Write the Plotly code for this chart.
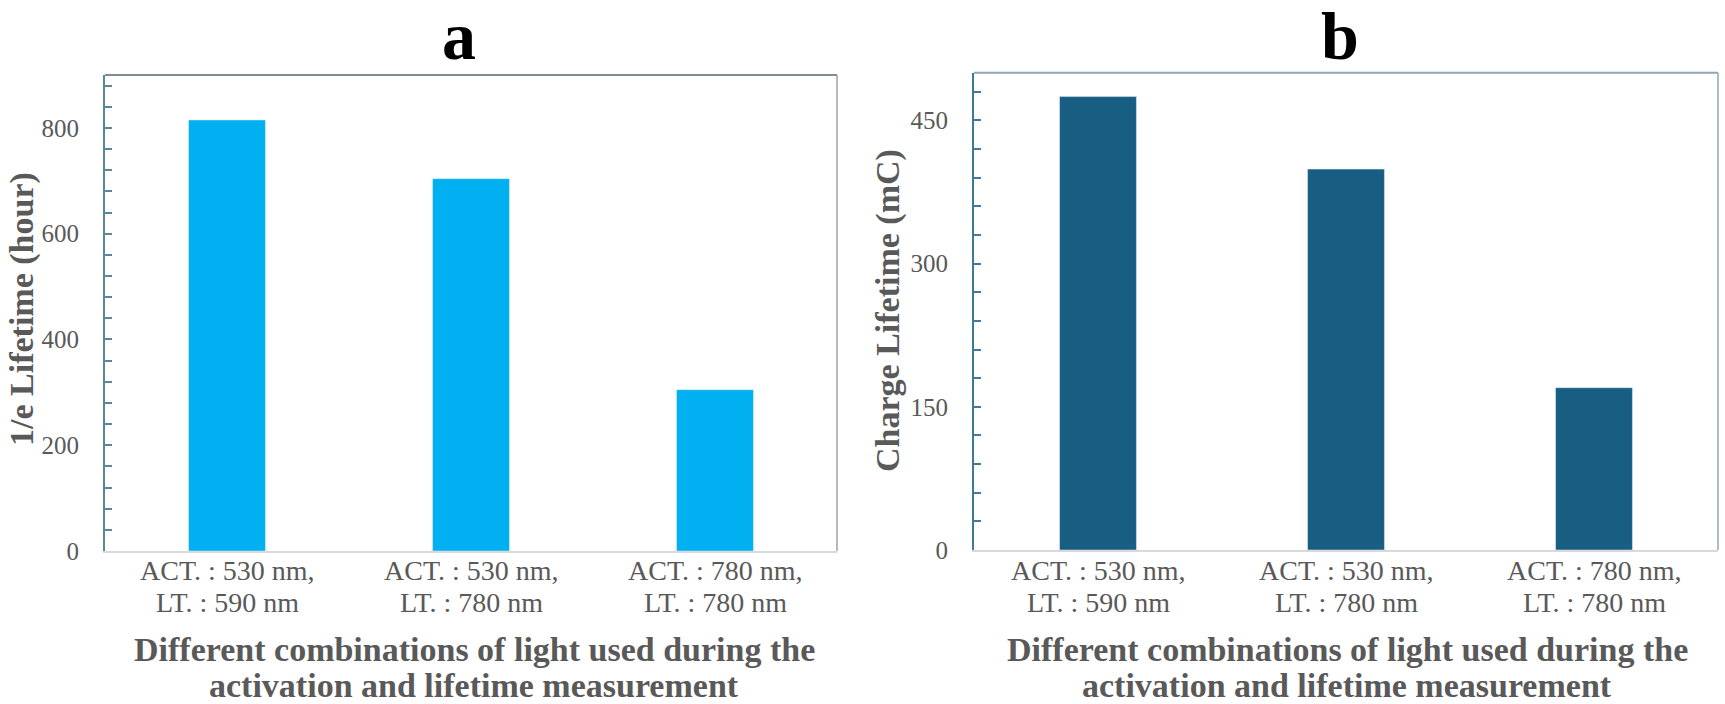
import plotly.graph_objects as go

# ---- data ----
categories = ["ACT. : 530 nm, LT. : 590 nm",
              "ACT. : 530 nm, LT. : 780 nm",
              "ACT. : 780 nm, LT. : 780 nm"]
label_line1 = ["ACT. : 530 nm,", "ACT. : 530 nm,", "ACT. : 780 nm,"]
label_line2 = ["LT. : 590 nm", "LT. : 780 nm", "LT. : 780 nm"]
lifetime_hour = [815, 704, 305]
charge_mC = [475, 399, 170]
panel_labels = ["a", "b"]
ytitle_a = "1/e Lifetime (hour)"
ytitle_b = "Charge Lifetime (mC)"
xtitle_lines = ["Different combinations of light used during the",
                "activation and lifetime measurement"]

W, H = 1725, 704
SERIF = "Liberation Serif"
GREY = "#595959"

def px_x(p):
    return p / W

def px_y(p):
    return 1 - p / H

fig = go.Figure()
fig.add_trace(go.Bar(x=categories, y=lifetime_hour, marker_color="#00B0F0",
                     width=0.315, xaxis="x", yaxis="y", showlegend=False))
fig.add_trace(go.Bar(x=categories, y=charge_mC, marker_color="#175E82",
                     width=0.31, xaxis="x2", yaxis="y2", showlegend=False))

xcommon = dict(type="category", showline=True, linecolor="#d9d9d9", linewidth=2,
               ticks="", showticklabels=False, showgrid=False, zeroline=False, automargin=False)
fig.update_layout(
    xaxis=dict(domain=[px_x(105), px_x(837)], anchor="y", **xcommon),
    xaxis2=dict(domain=[px_x(974), px_x(1718)], anchor="y2", **xcommon),
    yaxis=dict(domain=[px_y(551), px_y(75)], anchor="x", range=[0, 900],
               tickvals=[0, 200, 400, 600, 800], ticks="inside", ticklen=7,
               tickcolor="#5a8799", tickwidth=1.5,
               minor=dict(dtick=40, ticks="inside", ticklen=7, tickcolor="#5a8799", tickwidth=1.5),
               showline=True, linecolor="#5a8799", linewidth=2,
               tickfont=dict(family=SERIF, size=25, color=GREY), ticklabelstandoff=19,
               showgrid=False, zeroline=False, automargin=False),
    yaxis2=dict(domain=[px_y(550), px_y(72.7)], anchor="x2", range=[0, 500],
                tickvals=[0, 150, 300, 450], ticks="inside", ticklen=7,
                tickcolor="#3e7b98", tickwidth=1.5,
                minor=dict(dtick=30, ticks="inside", ticklen=7, tickcolor="#3e7b98", tickwidth=1.5),
                showline=True, linecolor="#3e7b98", linewidth=2,
                tickfont=dict(family=SERIF, size=25, color=GREY), ticklabelstandoff=19,
                showgrid=False, zeroline=False, automargin=False),
    width=W, height=H, margin=dict(l=0, r=0, t=0, b=0, autoexpand=False),
    paper_bgcolor="white", plot_bgcolor="white",
)

# frame lines (top, right)
for xr, yr, topc, rightc in [("x domain", "y domain", "#7f8c94", "#9aa5ab"),
                              ("x2 domain", "y2 domain", "#8fa6b3", "#8ea7b6")]:
    fig.add_shape(type="line", xref=xr, yref=yr, x0=0, x1=1, y0=1, y1=1,
                  line=dict(color=topc, width=2))
    fig.add_shape(type="line", xref=xr, yref=yr, x0=1, x1=1, y0=0, y1=1,
                  line=dict(color=rightc, width=1.5))

# category labels (two lines, tight spacing) placed on the category axes
for xref in ["x", "x2"]:
    for cat, l1, l2 in zip(categories, label_line1, label_line2):
        for txt, ypx in [(l1, 570), (l2, 602)]:
            fig.add_annotation(text=txt, x=cat, xref=xref, y=px_y(ypx), yref="paper",
                               xanchor="center", yanchor="middle", showarrow=False,
                               font=dict(family=SERIF, size=28, color=GREY))

# panel letters
for lab, cx in zip(panel_labels, [459, 1340]):
    fig.add_annotation(text=f"<b>{lab}</b>", x=px_x(cx), y=px_y(76), xref="paper", yref="paper",
                       xanchor="center", yanchor="bottom", showarrow=False,
                       font=dict(family=SERIF, size=68, color="black"))

# x titles
for cx in [474, 1347]:
    for txt, ypx in zip(xtitle_lines, [649, 685]):
        fig.add_annotation(text=f"<b>{txt}</b>", x=px_x(cx), y=px_y(ypx), xref="paper", yref="paper",
                           xanchor="center", yanchor="middle", showarrow=False,
                           font=dict(family=SERIF, size=34, color=GREY))

# y titles
for t, cx, cy in [(ytitle_a, 22, 309), (ytitle_b, 888, 311)]:
    fig.add_annotation(text=f"<b>{t}</b>", x=px_x(cx), y=px_y(cy), xref="paper", yref="paper",
                       xanchor="center", yanchor="middle", showarrow=False, textangle=-90,
                       font=dict(family=SERIF, size=34, color=GREY))

fig.write_html("out.html")
